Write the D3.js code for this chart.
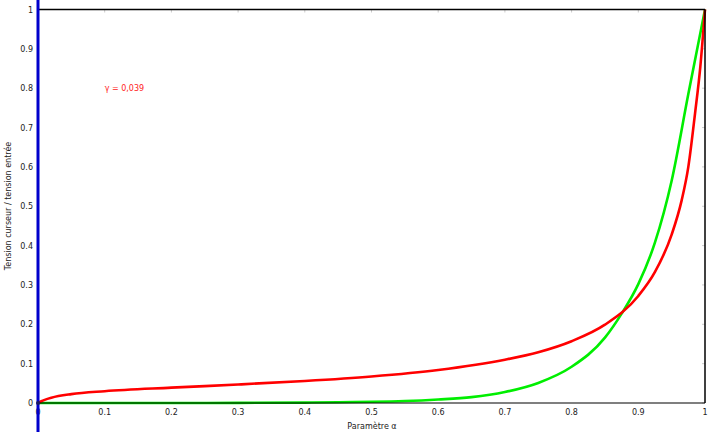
<!DOCTYPE html>
<html>
<head>
<meta charset="utf-8">
<script src="https://cdn.jsdelivr.net/npm/d3@7"></script>
<style>
  body { margin: 0; background: #fff; }
  text { font-family: "DejaVu Sans", sans-serif; }
</style>
</head>
<body>
<svg width="720" height="432"></svg>
<script>
// values
var alphaRed = [0, 0.005, 0.01, 0.02, 0.05, 0.1, 0.2, 0.3, 0.4, 0.5, 0.6, 0.7, 0.75, 0.8, 0.85, 0.9, 0.925, 0.95, 0.965, 0.975, 0.985, 0.993, 1];
var tensionRed = [0, 0.0045, 0.008, 0.0133, 0.0225, 0.030, 0.039, 0.047, 0.056, 0.0675, 0.084, 0.110, 0.129, 0.157, 0.199, 0.272, 0.333, 0.428, 0.515, 0.600, 0.735, 0.855, 1];

var alphaGreen = [0, 0.1, 0.2, 0.3, 0.4, 0.45, 0.5, 0.55, 0.6, 0.65, 0.7, 0.75, 0.8, 0.85, 0.875, 0.9, 0.925, 0.95, 0.975, 1];
var tensionGreen = [0, 0, 0, 0.0003, 0.001, 0.002, 0.003, 0.005, 0.009, 0.015, 0.028, 0.051, 0.092, 0.166, 0.227, 0.302, 0.408, 0.565, 0.785, 1];

var xTicks = [0, 0.1, 0.2, 0.3, 0.4, 0.5, 0.6, 0.7, 0.8, 0.9, 1];
var yTicks = [0, 0.1, 0.2, 0.3, 0.4, 0.5, 0.6, 0.7, 0.8, 0.9, 1];
var gammaLabel = "γ = 0,039";

var svg = d3.select("svg"),
  width = +svg.attr("width"),
  height = +svg.attr("height");

var x = d3.scaleLinear().domain([0, 1]).range([38, 705]);
var y = d3.scaleLinear().domain([0, 1]).range([403, 9.5]);

var fmt = function(d) { return d === 0 || d === 1 ? String(d) : d3.format(".1f")(d); };

// tiny grey ticks on top and right borders
svg.append("g").selectAll("line.tt").data(xTicks).enter().append("line")
  .attr("x1", function(d) { return x(d); }).attr("x2", function(d) { return x(d); })
  .attr("y1", y(1)).attr("y2", y(1) + 3)
  .attr("stroke", "#ccc").attr("stroke-width", 1);
svg.append("g").selectAll("line.rt").data(yTicks).enter().append("line")
  .attr("y1", function(d) { return y(d); }).attr("y2", function(d) { return y(d); })
  .attr("x1", x(1)).attr("x2", x(1) - 3)
  .attr("stroke", "#ccc").attr("stroke-width", 1);

// curves
var line = d3.line()
  .x(function(d) { return x(d[0]); })
  .y(function(d) { return y(d[1]); })
  .curve(d3.curveMonotoneX);

svg.append("path")
  .datum(d3.zip(alphaGreen, tensionGreen))
  .attr("d", line)
  .attr("fill", "none")
  .attr("stroke", "#00ee00")
  .attr("stroke-width", 2.6);

svg.append("path")
  .datum(d3.zip(alphaRed, tensionRed))
  .attr("d", line)
  .attr("fill", "none")
  .attr("stroke", "#ff0000")
  .attr("stroke-width", 2.6);

// frame
svg.append("line").attr("x1", x(0)).attr("x2", x(1)).attr("y1", y(0)).attr("y2", y(0))
  .attr("stroke", "#000").attr("stroke-width", 1.2);
svg.append("line").attr("x1", x(0)).attr("x2", x(1)).attr("y1", y(1)).attr("y2", y(1))
  .attr("stroke", "#000").attr("stroke-width", 1.5);
svg.append("line").attr("x1", x(1)).attr("x2", x(1)).attr("y1", y(1)).attr("y2", y(0))
  .attr("stroke", "#000").attr("stroke-width", 1.5);

// tick labels
svg.append("g").selectAll("text").data(xTicks).enter().append("text")
  .attr("x", function(d) { return x(d); })
  .attr("y", 415)
  .attr("text-anchor", "middle")
  .attr("font-size", 8)
  .attr("fill", "#222")
  .text(fmt);
svg.append("g").selectAll("text").data(yTicks).enter().append("text")
  .attr("x", 33)
  .attr("y", function(d) { return y(d) + 3; })
  .attr("text-anchor", "end")
  .attr("font-size", 8)
  .attr("fill", "#222")
  .text(fmt);

// blue left axis
svg.append("line").attr("x1", x(0)).attr("x2", x(0)).attr("y1", 0).attr("y2", height)
  .attr("stroke", "#0000cc").attr("stroke-width", 3);
svg.append("circle").attr("cx", x(0)).attr("cy", y(0)).attr("r", 2).attr("fill", "#1a1a66");

// titles
svg.append("text")
  .attr("x", 372).attr("y", 429)
  .attr("text-anchor", "middle")
  .attr("font-size", 8)
  .attr("fill", "#222")
  .text("Paramètre α");
svg.append("text")
  .attr("transform", "translate(11," + 206 + ") rotate(-90)")
  .attr("text-anchor", "middle")
  .attr("font-size", 8)
  .attr("fill", "#222")
  .text("Tension curseur / tension entrée");

svg.append("text")
  .attr("x", x(0.1)).attr("y", y(0.8) + 3)
  .attr("font-size", 8)
  .attr("fill", "#ff2222")
  .text(gammaLabel);
</script>
</body>
</html>
